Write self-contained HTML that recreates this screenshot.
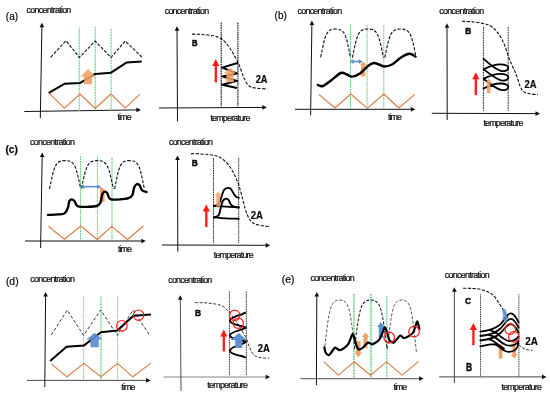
<!DOCTYPE html>
<html><head><meta charset="utf-8"><title>figure</title>
<style>
html,body{margin:0;padding:0;background:#fff;}
body{width:550px;height:397px;overflow:hidden;}
svg{display:block;filter:blur(0.35px);}
svg text{font-family:"Liberation Sans",sans-serif;fill:#0a0a0a;stroke:#0a0a0a;stroke-width:0.22px;}svg text.b{stroke-width:0.25px;}
</style></head><body>
<svg width="550" height="397" viewBox="0 0 550 397">
<rect width="550" height="397" fill="#fff"/>
<text x="5.8" y="19.8" font-size="10">(a)</text>
<text x="26.6" y="12.9" font-size="8.9" textLength="44.7" lengthAdjust="spacing">concentration</text>
<path d="M24.3 111.5L137.9 109.9" stroke="#111" stroke-width="1" fill="none"/>
<path d="M40.3 118.2L41.9 25.8" stroke="#111" stroke-width="1" fill="none"/>
<path d="M41.9 22.8l-2.35 4.5h4.7zM140.9 109.9l-4.5 -2.35v4.7z" fill="#111"/>
<path d="M79.3 27.6V111.5" stroke="#7ad38b" stroke-width="1.4" stroke-dasharray="1 0.55" fill="none"/>
<path d="M95.3 26.8V111.5" stroke="#7ad38b" stroke-width="1.4" stroke-dasharray="1 0.55" fill="none"/>
<path d="M111.1 29V111.5" stroke="#7ad38b" stroke-width="1.4" stroke-dasharray="1 0.55" fill="none"/>
<path d="M50.7 57.3L66 40.7L79.4 57.5L95.2 41L111 57.5L125.2 41L141.7 57" stroke="#111" stroke-width="1.1" stroke-dasharray="3.2 1.5" fill="none" stroke-linejoin="round" stroke-linecap="butt"/>
<path d="M48.8 92.8L64.4 108.2L80 94L95.2 108.5L111 94L125.2 108.2L139.6 94.4" stroke="#dc7a45" stroke-width="1.1" fill="none" stroke-linejoin="round" stroke-linecap="butt"/>
<path d="M48.8 92.8L64.4 83.8L80.3 82.9L95.2 73.9L111 72.7L126.4 62.6L141.7 61.4" stroke="#000" stroke-width="2" fill="none" stroke-linejoin="round" stroke-linecap="butt"/>
<path d="M88.1 69.1L95.64999999999999 76.7H92.14999999999999V84.2H84.05V76.7H80.55z" fill="#f2a066" opacity="0.88"/>
<text x="117.4" y="120.2" font-size="8.9" textLength="14.2" lengthAdjust="spacing">time</text>
<text x="164.7" y="13.6" font-size="8.9" textLength="44.4" lengthAdjust="spacing">concentration</text>
<path d="M159 108L263.9 107.4" stroke="#111" stroke-width="1" fill="none"/>
<path d="M177.5 121.5L177 29.2" stroke="#111" stroke-width="1" fill="none"/>
<path d="M177 26.2l-2.35 4.5h4.7zM266.9 107.4l-4.5 -2.35v4.7z" fill="#111"/>
<path d="M221.2 22.5V106.3M237.9 22.5V106.3" stroke="#1a1a1a" stroke-width="1.1" stroke-dasharray="1.7 0.6" fill="none"/>
<path d="M192.0 34.1C193.3 34.1 197.4 34.2 200.0 34.4C202.6 34.5 205.5 34.8 207.7 35.0C209.9 35.2 211.5 35.5 213.0 35.8C214.5 36.1 215.6 36.3 216.7 36.6C217.8 36.9 218.6 37.3 219.6 37.8C220.6 38.3 221.2 38.5 222.4 39.5C223.6 40.5 225.2 42.0 226.5 43.6C227.8 45.2 229.2 47.1 230.4 49.0C231.7 50.9 232.8 52.9 234.0 55.0C235.2 57.1 236.5 59.3 237.6 61.5C238.7 63.7 239.4 65.7 240.3 68.0C241.2 70.3 242.0 73.1 242.8 75.1C243.6 77.1 244.2 78.5 245.0 80.0C245.8 81.5 246.6 83.1 247.4 84.2C248.2 85.3 249.1 85.9 250.0 86.5C250.9 87.1 251.3 87.3 253.0 87.6C254.7 87.9 257.6 88.3 260.0 88.5C262.4 88.7 266.0 88.9 267.2 89.0" stroke="#111" stroke-width="1.1" stroke-dasharray="3.2 1.5" fill="none" stroke-linejoin="round" stroke-linecap="butt"/>
<text x="192" y="46.2" font-size="9" textLength="5.5" lengthAdjust="spacingAndGlyphs" font-weight="700" class="b" style="stroke-width:0.55px">B</text>
<text x="255.7" y="83.1" font-size="10.5" textLength="11.9" lengthAdjust="spacingAndGlyphs" font-weight="700" class="b" style="stroke-width:0.2px">2A</text>
<path d="M238.2 62.8L222.2 67.6L237 73.4L222.2 76.4L237 80.9L222.2 84.8L237 87.9" stroke="#000" stroke-width="2" fill="none" stroke-linejoin="round" stroke-linecap="butt"/>
<path d="M230 67.6L236.3 73.6H233.8V82.2H226.2V73.6H223.7z" fill="#f2a066" opacity="0.86"/>
<path d="M215.8 82.4V63" stroke="#ff1a1a" stroke-width="2.3" fill="none"/>
<path d="M215.8 59l-3.6 7h7.2z" fill="#ff1a1a"/>
<text x="210.4" y="120.6" font-size="8.9" textLength="40" lengthAdjust="spacing">temperature</text>
<text x="274.6" y="19.4" font-size="10">(b)</text>
<text x="297.5" y="13.5" font-size="8.9" textLength="44.7" lengthAdjust="spacing">concentration</text>
<path d="M295 109.3L412.3 109.3" stroke="#111" stroke-width="1" fill="none"/>
<path d="M310.6 115.4L311.9 23.5" stroke="#111" stroke-width="1" fill="none"/>
<path d="M311.9 20.5l-2.35 4.5h4.7zM415.3 109.3l-4.5 -2.35v4.7z" fill="#111"/>
<path d="M350.5 24.1V108.8" stroke="#55c468" stroke-width="1" stroke-dasharray="1.5 0.9" fill="none"/>
<path d="M367.1 25.4V108.8" stroke="#55c468" stroke-width="1" stroke-dasharray="1.5 0.9" fill="none"/>
<path d="M383.8 25.4V108.8" stroke="#55c468" stroke-width="1" stroke-dasharray="1.5 0.9" fill="none"/>
<path d="M320.7 57.3C325.2 34.7 326.1 29 335.6 29C345.1 29 346.0 34.7 350.5 57.7M352.4 57.7C357.0 34.7 358.0 29 367.9 29C377.8 29 378.8 34.7 383.4 57.7" stroke="#111" stroke-width="1.1" stroke-dasharray="3.2 1.5" fill="none" stroke-linejoin="round" stroke-linecap="butt"/>
<path d="M384.8 57.7C389.5 34.7 390.5 29 400.5 29C410.5 29 411.5 34.7 416.2 57.7" stroke="#111" stroke-width="1.1" stroke-dasharray="3.2 1.5" fill="none" stroke-linejoin="round" stroke-linecap="butt"/>
<path d="M318.8 94.4L335 108L350.8 94L367.3 108.3L383.9 94L398.7 108L414.8 94.4" stroke="#dc7a45" stroke-width="1.1" fill="none" stroke-linejoin="round" stroke-linecap="butt"/>
<path d="M363.2 61.6L366.3 65H365.3V76.6H361.09999999999997V65H360.09999999999997z" fill="#f2a066" opacity="1"/>
<path d="M317.9 85.0C318.8 85.2 320.8 86.8 323.0 86.0C325.2 85.2 328.0 82.7 331.0 80.5C334.0 78.3 338.1 74.0 340.8 73.0C343.5 72.0 345.1 73.9 347.0 74.5C348.9 75.1 349.8 76.8 352.0 76.6C354.2 76.4 357.3 75.3 360.0 73.5C362.7 71.7 365.7 67.8 368.0 66.0C370.3 64.2 372.2 63.2 374.0 63.0C375.8 62.8 377.2 63.9 379.0 64.5C380.8 65.1 382.3 66.5 384.5 66.5C386.7 66.5 389.2 66.0 392.0 64.5C394.8 63.0 398.1 59.3 401.0 57.5C403.9 55.7 407.0 53.9 409.4 53.7C411.8 53.5 414.3 56.0 415.3 56.5" stroke="#000" stroke-width="2.4" fill="none" stroke-linejoin="round" stroke-linecap="round"/>
<path d="M352.4 61.6H360" stroke="#5b8fd0" stroke-width="1.6"/><path d="M349.8 61.6l3.8 -2.5v5zM362.6 61.6l-3.8 -2.5v5z" fill="#5b8fd0"/>
<text x="388" y="120.2" font-size="8.9" textLength="14" lengthAdjust="spacing">time</text>
<text x="439.2" y="13.6" font-size="8.9" textLength="45" lengthAdjust="spacing">concentration</text>
<path d="M431.8 113.3L537 113.6" stroke="#111" stroke-width="1" fill="none"/>
<path d="M447.2 120L447 26.2" stroke="#111" stroke-width="1" fill="none"/>
<path d="M447 23.2l-2.35 4.5h4.7zM540 113.6l-4.5 -2.35v4.7z" fill="#111"/>
<path d="M483.4 27V110.7M508.2 27V110.7" stroke="#333" stroke-width="1" stroke-dasharray="1.8 0.7" fill="none"/>
<path d="M462.0 21.3C463.8 21.4 469.6 21.5 473.0 21.9C476.4 22.2 479.7 22.8 482.6 23.4C485.5 24.0 488.1 24.7 490.2 25.7C492.3 26.7 493.5 28.0 495.0 29.5C496.5 31.0 497.8 32.7 499.0 34.5C500.2 36.3 501.4 38.4 502.5 40.5C503.6 42.6 504.4 44.5 505.3 47.1C506.2 49.7 507.4 53.7 508.2 56.0C509.0 58.3 509.4 59.1 510.2 61.0C511.0 62.9 512.1 65.4 513.0 67.5C513.9 69.6 515.0 71.5 515.8 73.6C516.6 75.7 517.3 77.9 518.0 80.0C518.7 82.1 519.4 84.4 520.0 86.0C520.6 87.6 521.2 88.6 521.8 89.6C522.4 90.6 523.0 91.3 523.8 91.9C524.6 92.5 525.4 92.8 526.6 93.1C527.8 93.4 529.1 93.7 531.0 94.0C532.9 94.3 536.8 94.6 538.0 94.7" stroke="#111" stroke-width="1.1" stroke-dasharray="3.2 1.5" fill="none" stroke-linejoin="round" stroke-linecap="butt"/>
<text x="465.2" y="34" font-size="9.6" textLength="6" lengthAdjust="spacingAndGlyphs" font-weight="700" class="b" style="stroke-width:0.5px">B</text>
<text x="524.5" y="87.8" font-size="10.5" textLength="12.0" lengthAdjust="spacingAndGlyphs" font-weight="700" class="b" style="stroke-width:0.2px">2A</text>
<path d="M483.6 88.5C488.6 85.9 493.6 83.5 500.1 83.5C505.1 83.5 508.3 85.1 508.3 87.1C508.3 89.1 505.6 90.4 502.1 90.2C497.6 89.9 491.6 85.0 483.6 78.9C488.6 76.30000000000001 493.6 73.9 500.1 73.9C505.1 73.9 508.3 75.5 508.3 77.5C508.3 79.5 505.6 80.80000000000001 502.1 80.60000000000001C497.6 80.30000000000001 491.6 75.4 483.6 69.30000000000001C488.6 66.80000000000001 493.6 64.4 500.1 64.4C505.1 64.4 508.3 66.0 508.3 68.0C508.3 70.0 505.6 71.30000000000001 502.1 71.10000000000001C497.6 70.80000000000001 491.6 65.9 483.6 58.800000000000004" stroke="#000" stroke-width="1.8" fill="none" stroke-linejoin="round" stroke-linecap="round"/>
<path d="M488.7 78.4L491.9 82.8H490.5V93H486.9V82.8H485.5z" fill="#f2a066" opacity="0.9"/>
<path d="M475.8 95.1V76.3" stroke="#ff1a1a" stroke-width="2.3" fill="none"/>
<path d="M475.8 72.3l-3.6 7h7.2z" fill="#ff1a1a"/>
<text x="483.4" y="125.6" font-size="8.9" textLength="40" lengthAdjust="spacing">temperature</text>
<text x="5.5" y="153.3" font-size="10" font-weight="700" class="b">(c)</text>
<text x="30.1" y="145.4" font-size="8.9" textLength="44.8" lengthAdjust="spacing">concentration</text>
<path d="M25 241L142.8 241" stroke="#111" stroke-width="1" fill="none"/>
<path d="M40.6 248L42.2 155.5" stroke="#111" stroke-width="1" fill="none"/>
<path d="M42.2 152.5l-2.35 4.5h4.7zM145.8 241l-4.5 -2.35v4.7z" fill="#111"/>
<path d="M80.5 156.2V239.8" stroke="#55c468" stroke-width="1" stroke-dasharray="1.5 0.9" fill="none"/>
<path d="M97.4 156.2V239.8" stroke="#55c468" stroke-width="1" stroke-dasharray="1.5 0.9" fill="none"/>
<path d="M112 157.4V239.8" stroke="#7ad38b" stroke-width="1.4" stroke-dasharray="1 0.55" fill="none"/>
<path d="M49.5 189C54.2 166.3 55.1 160.6 65.0 160.6C75.0 160.6 75.9 166.1 80.6 188.3M81.4 188.5C86.2 166.2 87.2 160.6 97.4 160.6C107.6 160.6 108.6 166.3 113.4 189" stroke="#111" stroke-width="1.1" stroke-dasharray="3.2 1.5" fill="none" stroke-linejoin="round" stroke-linecap="butt"/>
<path d="M114.6 189C119.1 166.3 119.9 160.6 129.4 160.6C139.0 160.6 139.8 166.2 144.3 188.5" stroke="#111" stroke-width="1.1" stroke-dasharray="3.2 1.5" fill="none" stroke-linejoin="round" stroke-linecap="butt"/>
<path d="M48.4 226.3L64.4 239.3L80.8 226L97.3 239.5L111.7 226.3L127.6 239.5L143.4 226" stroke="#dc7a45" stroke-width="1.1" fill="none" stroke-linejoin="round" stroke-linecap="butt"/>
<path d="M99.5 186L104.6 189.5V202H100V190z" fill="#f2a066"/>
<path d="M47.9 214.9C49.6 214.8 55.2 214.7 58.0 214.4C60.8 214.2 63.0 214.5 64.6 213.4C66.2 212.3 67.0 210.0 67.8 208.0C68.6 206.0 68.6 202.9 69.2 201.5C69.8 200.1 70.7 199.5 71.6 199.4C72.5 199.3 73.8 200.3 74.6 201.2C75.4 202.1 75.6 204.1 76.4 205.0C77.2 205.9 77.4 206.3 79.3 206.6C81.2 206.9 85.1 206.9 88.0 206.8C90.9 206.7 94.5 206.6 96.5 206.0C98.5 205.4 99.4 204.8 100.3 203.0C101.2 201.2 101.4 196.9 102.1 195.0C102.8 193.1 103.4 192.2 104.2 191.8C105.0 191.4 106.2 191.9 107.0 192.8C107.8 193.7 108.0 196.2 108.8 197.3C109.6 198.4 109.7 199.2 111.6 199.5C113.5 199.8 117.2 199.6 120.0 199.4C122.8 199.2 126.4 198.9 128.5 198.2C130.6 197.5 131.5 196.8 132.4 195.0C133.3 193.2 133.5 189.3 134.2 187.5C134.9 185.7 135.7 184.6 136.6 184.2C137.5 183.8 138.8 184.4 139.6 185.3C140.4 186.2 140.9 188.6 141.6 189.6C142.3 190.6 143.0 190.9 143.8 191.3C144.6 191.7 146.1 191.9 146.5 192.0" stroke="#000" stroke-width="2.35" fill="none" stroke-linejoin="round" stroke-linecap="round"/>
<path d="M83 186.7H98.4" stroke="#5b8fd0" stroke-width="1.6"/><path d="M80.2 186.7l3.9 -2.5v5zM101 186.7l-3.9 -2.5v5z" fill="#5b8fd0"/>
<text x="118" y="252.2" font-size="8.9" textLength="14" lengthAdjust="spacing">time</text>
<text x="169" y="145.4" font-size="8.9" textLength="44" lengthAdjust="spacing">concentration</text>
<path d="M162 245L267.2 245.3" stroke="#111" stroke-width="1" fill="none"/>
<path d="M177.8 251.7L177.5 158.5" stroke="#111" stroke-width="1" fill="none"/>
<path d="M177.5 155.5l-2.35 4.5h4.7zM270.2 245.3l-4.5 -2.35v4.7z" fill="#111"/>
<path d="M213.5 158V243M238.7 158V243" stroke="#333" stroke-width="1" stroke-dasharray="1.7 0.7" fill="none"/>
<path d="M191.0 153.6C192.5 153.7 197.2 153.8 200.0 153.9C202.8 154.1 205.5 154.3 207.7 154.5C209.9 154.7 211.3 154.9 213.0 155.2C214.7 155.5 216.4 155.7 217.9 156.3C219.4 156.9 220.7 157.7 222.0 158.6C223.3 159.5 224.5 160.6 225.8 162.0C227.1 163.4 228.7 165.1 230.0 167.0C231.3 168.9 232.7 171.1 233.8 173.3C234.9 175.5 235.9 177.7 236.8 180.0C237.7 182.3 238.5 184.0 239.4 187.0C240.3 190.0 241.5 194.4 242.4 198.0C243.3 201.6 244.2 205.5 245.1 208.5C246.0 211.5 246.9 213.9 247.8 216.0C248.8 218.1 249.8 219.7 250.8 221.0C251.8 222.3 252.9 223.0 254.0 223.6C255.1 224.2 256.1 224.4 257.6 224.8C259.1 225.2 260.9 225.5 263.0 225.8C265.1 226.1 268.8 226.5 270.0 226.6" stroke="#111" stroke-width="1.1" stroke-dasharray="3.2 1.5" fill="none" stroke-linejoin="round" stroke-linecap="butt"/>
<text x="191.7" y="165.8" font-size="9.6" textLength="6" lengthAdjust="spacingAndGlyphs" font-weight="700" class="b" style="stroke-width:0.5px">B</text>
<text x="250.7" y="219.4" font-size="10.5" textLength="12.3" lengthAdjust="spacingAndGlyphs" font-weight="700" class="b" style="stroke-width:0.2px">2A</text>
<path d="M238.8 218.8C236.7 218.7 230.1 218.6 226.0 218.4C221.9 218.2 216.0 217.6 214.0 217.4" stroke="#000" stroke-width="1.9" fill="none" stroke-linejoin="round" stroke-linecap="round"/>
<path d="M214.0 217.4C214.8 217.1 217.5 217.0 218.6 215.3C219.7 213.6 220.1 209.8 220.8 207.4C221.5 205.0 222.1 202.2 222.9 200.8C223.7 199.4 224.9 198.8 225.8 198.7C226.7 198.5 227.7 198.9 228.5 199.9C229.3 200.9 229.9 203.3 230.8 204.4C231.7 205.5 232.5 206.2 233.8 206.7C235.1 207.2 238.0 207.3 238.8 207.4" stroke="#000" stroke-width="1.9" fill="none" stroke-linejoin="round" stroke-linecap="round"/>
<path d="M238.8 207.4C236.7 207.3 230.1 206.8 226.0 206.6C221.9 206.4 216.0 206.1 214.0 206.0" stroke="#000" stroke-width="1.9" fill="none" stroke-linejoin="round" stroke-linecap="round"/>
<path d="M214.0 206.0C214.8 205.6 217.7 205.2 219.0 203.5C220.3 201.8 220.9 198.2 221.7 196.0C222.5 193.8 223.1 191.3 224.0 190.0C224.9 188.7 225.9 188.3 227.0 188.1C228.1 187.8 229.4 187.8 230.4 188.5C231.4 189.2 232.2 191.2 233.1 192.6C234.0 194.0 235.1 195.8 236.0 196.7C236.9 197.6 238.3 197.6 238.8 197.8" stroke="#000" stroke-width="1.9" fill="none" stroke-linejoin="round" stroke-linecap="round"/>
<path d="M218.2 191.9L221.85 195.4H220.14999999999998V206.7H216.25V195.4H214.54999999999998z" fill="#f2a066" opacity="0.85"/>
<path d="M206.3 227.1V208.5" stroke="#ff1a1a" stroke-width="2.3" fill="none"/>
<path d="M206.3 204.5l-3.6 7h7.2z" fill="#ff1a1a"/>
<text x="213.7" y="257.8" font-size="8.9" textLength="40" lengthAdjust="spacing">temperature</text>
<text x="5.9" y="284.6" font-size="10.4">(d)</text>
<text x="30.3" y="282" font-size="8.9" textLength="44.7" lengthAdjust="spacing">concentration</text>
<path d="M27 380.4L147.6 380.4" stroke="#4a4a4a" stroke-width="1" fill="none"/>
<path d="M44.8 387L45.6 295" stroke="#111" stroke-width="1" fill="none"/>
<path d="M45.6 292l-2.35 4.5h4.7zM150.6 380.4l-4.5 -2.35v4.7z" fill="#111"/>
<path d="M83.5 296.2V380" stroke="#7ad38b" stroke-width="1.1" stroke-dasharray="1.5 0.9" fill="none"/>
<path d="M101 296.2V380" stroke="#7ad38b" stroke-width="1.6" stroke-dasharray="1 0.55" fill="none"/>
<path d="M117.5 296.2V380" stroke="#7ad38b" stroke-width="1.1" stroke-dasharray="1.5 0.9" fill="none"/>
<path d="M51.3 335L67.2 310L83.6 335.4L100.7 310L117.3 335.4L133 310L150.3 336.2" stroke="#3a3a3a" stroke-width="1" stroke-dasharray="3.2 2" fill="none" stroke-linejoin="round" stroke-linecap="butt"/>
<path d="M51.3 363.8L67.1 376.8L83.9 363.4L100.9 376.8L117.5 363.4L132.8 376.8L150.6 363.4" stroke="#dc7a45" stroke-width="1.1" fill="none" stroke-linejoin="round" stroke-linecap="butt"/>
<path d="M50.1 361L66.6 346.8L83.8 345.6L100.9 332.2L117.3 330.5L133.4 315.8L151 314.5" stroke="#000" stroke-width="2" fill="none" stroke-linejoin="round" stroke-linecap="butt"/>
<path d="M94.6 332.7L102.89999999999999 339.6H98.8V347.3H90.39999999999999V339.6H86.3z" fill="#5b8fd0" opacity="0.92"/>
<circle cx="121.9" cy="325.8" r="5.3" stroke="#ff1a1a" stroke-width="1.2" fill="none"/><circle cx="138.6" cy="315.2" r="5.2" stroke="#ff1a1a" stroke-width="1.2" fill="none"/>
<text x="121.3" y="389.8" font-size="8.9" textLength="14.2" lengthAdjust="spacing">time</text>
<text x="168.3" y="283" font-size="8.9" textLength="44" lengthAdjust="spacing">concentration</text>
<path d="M163.5 377L267.2 377" stroke="#858585" stroke-width="1.2" fill="none"/>
<path d="M181 390.9L180.3 298.3" stroke="#3a3a3a" stroke-width="0.9" fill="none"/>
<path d="M180.3 295.3l-2.35 4.5h4.7zM270.2 377l-4.5 -2.35v4.7z" fill="#111"/>
<path d="M229.4 291.6V375.3M246.3 291.6V375.3" stroke="#333" stroke-width="1" stroke-dasharray="1.6 0.8" fill="none"/>
<path d="M194.9 302.6C196.8 302.7 202.4 302.6 206.0 302.9C209.6 303.2 213.6 303.6 216.5 304.2C219.4 304.8 221.0 305.1 223.2 306.5C225.3 307.9 227.3 310.2 229.4 312.6C231.5 315.0 234.1 318.3 236.0 321.0C237.9 323.7 239.3 326.1 241.0 329.0C242.7 331.9 244.9 335.4 246.2 338.2C247.5 341.0 248.1 343.8 249.0 346.0C249.9 348.2 250.7 350.0 251.5 351.5C252.3 353.0 253.0 354.1 254.0 355.0C255.0 355.9 256.1 356.6 257.6 357.1C259.1 357.6 261.1 357.8 263.0 358.0C264.9 358.2 268.0 358.2 269.0 358.2" stroke="#333" stroke-width="1" stroke-dasharray="3 1.6" fill="none" stroke-linejoin="round" stroke-linecap="butt"/>
<text x="195" y="315.8" font-size="9.6" textLength="6" lengthAdjust="spacingAndGlyphs" font-weight="700" class="b" style="stroke-width:0.5px">B</text>
<text x="257.8" y="352.4" font-size="10.5" textLength="12.1" lengthAdjust="spacingAndGlyphs" font-weight="700" class="b" style="stroke-width:0.2px">2A</text>
<path d="M245.8 312.3L242.3 314.2Q217.5 321.1 242.3 326.2L245.8 327.6L242.3 329.4Q217.5 335.9 242.3 340.5L245.8 341.8L242.3 343.9Q217.5 351.5 242.3 356.3L245.8 357.6" stroke="#000" stroke-width="2" fill="none" stroke-linejoin="round" stroke-linecap="butt"/>
<path d="M238.7 333L246.79999999999998 340H242.2V348H235.2V340H230.6z" fill="#5b8fd0" opacity="1"/>
<circle cx="234.7" cy="315.3" r="5.2" stroke="#ff1a1a" stroke-width="1.2" fill="none"/><circle cx="238.2" cy="323.2" r="5.2" stroke="#ff1a1a" stroke-width="1.2" fill="none"/>
<path d="M223.8 351.5V333.4" stroke="#ff1a1a" stroke-width="2.3" fill="none"/>
<path d="M223.8 329.4l-3.6 7h7.2z" fill="#ff1a1a"/>
<text x="207.2" y="387.8" font-size="8.9" textLength="40.8" lengthAdjust="spacing">temperature</text>
<text x="281.8" y="283.4" font-size="10.4">(e)</text>
<text x="310.5" y="280.6" font-size="8.9" textLength="44.2" lengthAdjust="spacing">concentration</text>
<path d="M300.6 378.6L420.7 378.6" stroke="#707070" stroke-width="1.2" fill="none"/>
<path d="M316.4 385.2L316.8 295" stroke="#111" stroke-width="1" fill="none"/>
<path d="M316.8 292l-2.35 4.5h4.7zM423.7 378.6l-4.5 -2.35v4.7z" fill="#111"/>
<path d="M354 294V378.2" stroke="#7ad69a" stroke-width="2" stroke-dasharray="1 0.55" fill="none"/>
<path d="M371 294V378.2" stroke="#7ad69a" stroke-width="2.2" stroke-dasharray="1 0.55" fill="none"/>
<path d="M386.8 296V378.2" stroke="#7ad69a" stroke-width="1.6" stroke-dasharray="1 0.55" fill="none"/>
<path d="M324.8 346.5C329.2 309.3 330.1 300 339.6 300C349.1 300 350.0 309.2 354.4 346" stroke="#444" stroke-width="0.9" stroke-dasharray="3 1.7" fill="none" stroke-linejoin="round" stroke-linecap="butt"/>
<path d="M354.4 349C359.3 309.8 360.3 300 370.7 300C381.1 300 382.1 309.8 387 349" stroke="#2a2a2a" stroke-width="1.1" stroke-dasharray="3 1.6" fill="none" stroke-linejoin="round" stroke-linecap="butt"/>
<path d="M387.4 349C391.8 309.8 392.6 300 401.9 300C411.2 300 412.0 310.4 416.4 352" stroke="#444" stroke-width="0.9" stroke-dasharray="3 1.7" fill="none" stroke-linejoin="round" stroke-linecap="butt"/>
<path d="M324 361.8L338.3 375.2L354.2 361.8L370.6 375.2L386.5 361.8L402.1 375.2L418.5 361.3" stroke="#dc7a45" stroke-width="1.1" fill="none" stroke-linejoin="round" stroke-linecap="butt"/>
<path d="M358.3 357.2L362.1 352.6H360.5V341H356.1V352.6H354.5z" fill="#f2a066" opacity="1"/>
<path d="M365.5 332.6L369.1 337H367.55V348H363.45V337H361.9z" fill="#f2a066" opacity="1"/>
<path d="M380.9 322.3L384.79999999999995 327H383.0V337.6H378.79999999999995V327H377.0z" fill="#5b8fd0" opacity="1"/>
<path d="M324.4 347.4C324.6 348.2 324.9 351.2 325.6 352.5C326.3 353.8 327.5 355.4 328.6 355.2C329.7 355.0 330.9 352.8 332.0 351.5C333.1 350.2 333.9 347.8 335.2 347.6C336.5 347.4 338.1 350.1 339.6 350.2C341.1 350.3 342.6 349.2 344.0 348.2C345.4 347.2 347.0 346.0 348.2 344.2C349.4 342.4 350.2 339.3 351.0 337.6C351.8 335.9 352.2 333.6 352.8 333.8C353.4 334.0 353.9 336.8 354.6 339.0C355.3 341.2 356.2 345.2 357.0 347.0C357.8 348.8 358.2 349.5 359.2 349.6C360.2 349.7 361.5 348.7 363.0 347.5C364.5 346.3 366.5 343.1 368.0 342.6C369.5 342.1 370.7 344.4 372.0 344.4C373.3 344.3 374.8 343.1 376.0 342.3C377.2 341.5 378.3 341.1 379.5 339.3C380.7 337.5 382.1 333.5 383.0 331.5C383.9 329.5 384.3 326.9 385.0 327.2C385.7 327.4 386.4 330.8 387.2 333.0C388.0 335.2 388.6 338.8 389.6 340.4C390.7 342.0 392.2 342.9 393.5 342.6C394.8 342.3 396.2 339.8 397.4 338.6C398.5 337.4 399.3 335.7 400.4 335.6C401.5 335.5 402.6 337.9 404.0 338.0C405.4 338.1 407.5 336.9 409.0 336.0C410.5 335.1 412.1 334.2 413.2 332.5C414.3 330.8 414.9 327.4 415.6 325.6C416.3 323.8 416.8 321.0 417.4 321.6C418.0 322.2 419.1 327.8 419.4 329.0" stroke="#000" stroke-width="2.2" fill="none" stroke-linejoin="round" stroke-linecap="round"/>
<circle cx="389.2" cy="337.5" r="5.3" stroke="#ff1a1a" stroke-width="1.2" fill="none"/><circle cx="414" cy="331.6" r="5.3" stroke="#ff1a1a" stroke-width="1.2" fill="none"/>
<text x="393.5" y="389.8" font-size="8.9" textLength="13.6" lengthAdjust="spacing">time</text>
<text x="444.8" y="277.8" font-size="8.9" textLength="44.9" lengthAdjust="spacing">concentration</text>
<path d="M439.2 376.9L543.5 376.9" stroke="#444" stroke-width="1" fill="none"/>
<path d="M454.4 383L454.4 290.3" stroke="#333" stroke-width="0.9" fill="none"/>
<path d="M454.4 287.3l-2.35 4.5h4.7zM546.5 376.9l-4.5 -2.35v4.7z" fill="#111"/>
<path d="M480.5 294.3V376.4M518.9 294.3V376.4" stroke="#333" stroke-width="1" stroke-dasharray="1.1 0.7" fill="none"/>
<path d="M463.1 288.3C464.6 288.3 469.1 288.2 472.0 288.4C474.9 288.6 477.6 288.7 480.3 289.3C483.0 289.9 485.7 290.9 488.0 292.0C490.3 293.1 492.2 294.1 494.1 296.2C496.0 298.2 497.9 301.7 499.6 304.3C501.3 306.9 503.2 309.4 504.5 311.7C505.8 314.0 507.0 316.9 507.5 318.0" stroke="#111" stroke-width="1.1" stroke-dasharray="3.2 1.5" fill="none" stroke-linejoin="round" stroke-linecap="butt"/>
<path d="M519 344.5C521 348 526 350.2 532.5 350.4" stroke="#333" stroke-width="1" stroke-dasharray="3 1.6" fill="none" stroke-linejoin="round" stroke-linecap="butt"/>
<text x="464.9" y="304.2" font-size="9.8" textLength="6.1" lengthAdjust="spacingAndGlyphs" font-weight="700" class="b" style="stroke-width:0.45px">C</text>
<text x="465.9" y="370.9" font-size="10" textLength="6.1" lengthAdjust="spacingAndGlyphs" font-weight="700" class="b" style="stroke-width:0.45px">B</text>
<text x="525.2" y="345.4" font-size="10.3" textLength="12.6" lengthAdjust="spacingAndGlyphs" font-weight="700" class="b" style="stroke-width:0.2px">2A</text>
<path d="M500.6 343.5L504.1 347.5H502.40000000000003V358.5H498.8V347.5H497.1z" fill="#f2a066" opacity="1"/>
<path d="M514.2 358.6L517.5 354.5H515.9000000000001V343.5H512.5V354.5H510.90000000000003z" fill="#f2a066" opacity="1"/>
<path d="M480.3 331.6C489 330.8 495.5 328.8 500.5 324.1C504.5 320.1 507 313.4 510.8 313.4C514.5 313.4 516.5 318.4 518.6 322.4M480.3 336C489 335.2 495.5 333.2 500.5 328.5C504.5 324.5 507 318.8 510.8 318.8C514.5 318.8 516.5 323.6 518.6 327.6M480.3 340.5C489 339.7 495.5 337.7 500.5 333.0C504.5 329.0 507 324.2 510.8 324.2C514.5 324.2 516.5 328.6 518.6 332.6M480.3 346.3C486 345.2 491 343.6 495 344.5C500 345.8 502 351.6 508.5 351.8C514.5 352 517.8 348.5 518.4 343M489 330.2C497 331 500 338 507 340.5C512 342 516.5 340 518.4 336.5M489 335C497 336 499 342.5 506 345C511.5 346.5 516.8 345 518.4 341M489 339.4C495 340.4 498 346 504 348.5" stroke="#000" stroke-width="1.8" fill="none" stroke-linejoin="round" stroke-linecap="round"/>
<g transform="rotate(-8 504.8 316)">
<path d="M504.9 323.4L508.5 317.4H506.79999999999995V309.2H503.0V317.4H501.29999999999995z" fill="#5b8fd0" opacity="0.82"/>
</g>
<circle cx="510.2" cy="329.2" r="5.3" stroke="#ff1a1a" stroke-width="1.2" fill="none"/><circle cx="513.9" cy="336.9" r="5.3" stroke="#ff1a1a" stroke-width="1.2" fill="none"/>
<path d="M473.4 345.2V327.1" stroke="#ff1a1a" stroke-width="2.3" fill="none"/>
<path d="M473.4 323.1l-3.6 7h7.2z" fill="#ff1a1a"/>
<text x="501.4" y="390" font-size="8.9" textLength="40.6" lengthAdjust="spacing">temperature</text>
</svg>
</body></html>
